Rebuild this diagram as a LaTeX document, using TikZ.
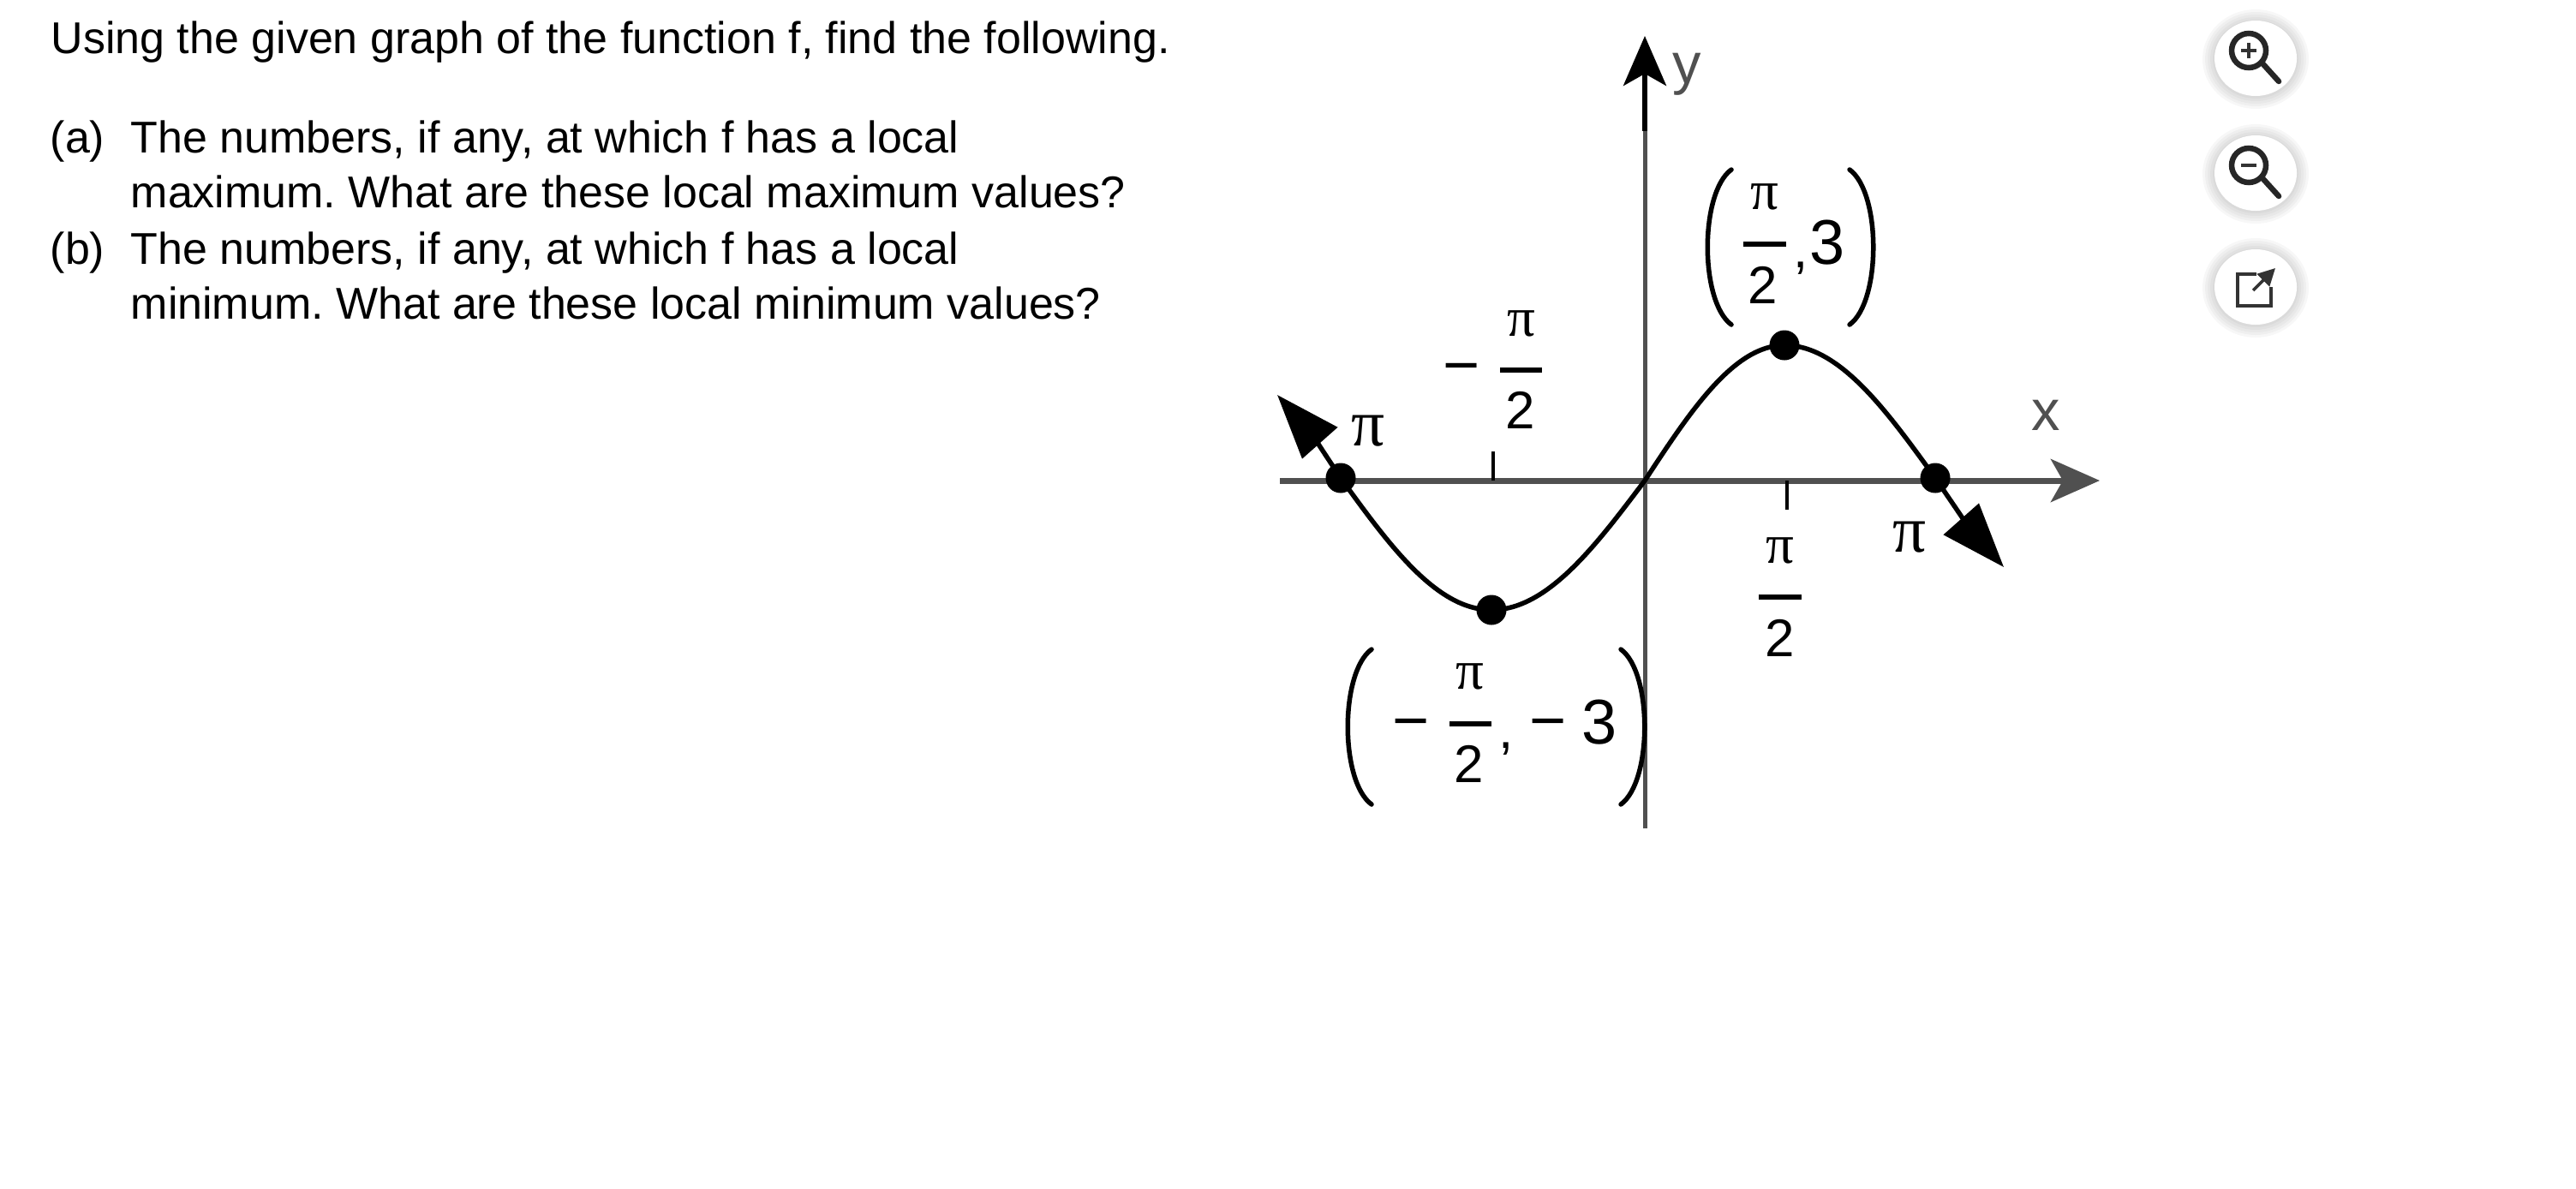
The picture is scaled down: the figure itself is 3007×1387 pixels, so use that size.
\documentclass[tikz,border=0pt]{standalone}
\usepackage{fontspec}
\setmainfont{Liberation Sans}
\newfontfamily\piface{Liberation Serif}
\usetikzlibrary{arrows.meta}
\definecolor{axisgray}{HTML}{505050}
\newcommand{\pismall}{{\piface\fontsize{18.5}{20}\selectfont π}}
\newcommand{\pilarge}{{\piface\fontsize{22}{24}\selectfont π}}
\newcommand{\minussign}{−}
\frenchspacing

\begin{document}
\begin{tikzpicture}[x=0.01cm,y=-0.01cm]
\tikzset{prose/.style={anchor=base west,inner sep=0pt,font=\fontsize{14.78}{16}\selectfont}}
\tikzset{lbl/.style={inner sep=0pt,font=\fontsize{17.6}{18}\selectfont}}
\tikzset{biglbl/.style={inner sep=0pt,font=\fontsize{21}{22}\selectfont}}
\tikzset{axislbl/.style={inner sep=0pt,text=axisgray,font=\fontsize{19}{20}\selectfont}}
\tikzset{ptdot/.style={circle,fill=black,inner sep=0pt,minimum size=0.35cm}}
\tikzset{fracbar/.style={line width=0.055cm}}
\tikzset{paren/.style={line width=0.055cm,line cap=round}}
\tikzset{fnline/.style={line width=0.055cm}}
\tikzset{iconline/.style={line width=0.065cm,line cap=round,color=black!85}}
\tikzset{iconthin/.style={line width=0.035cm,color=black!80}}
\useasboundingbox (0,0) rectangle (3007,1387);

% question text
\node[prose] (intro) at (59,62) {Using the given graph of the function f, find the following.};
\node[prose] (amark) at (58,178) {(a)};
\node[prose] (aline) at (152,178) {The numbers, if any, at which f has a local};
\node[prose] (atwo) at (152,242) {maximum. What are these local maximum values?};
\node[prose] (bmark) at (58,308) {(b)};
\node[prose] (bline) at (152,308) {The numbers, if any, at which f has a local};
\node[prose] (btwo) at (152,372) {minimum. What are these local minimum values?};

% axes
\coordinate (xstart) at (1494,561);
\coordinate (xend) at (2451,561);
\coordinate (ybottom) at (1920,967);
\coordinate (ymid) at (1920,153);
\coordinate (ytop) at (1920,42);
\draw[axisgray,line width=0.07cm,-{Stealth[length=0.57cm,width=0.5cm,inset=0.14cm]}] (xstart) -- (xend);
\draw[axisgray,line width=0.05cm] (ybottom) -- (ymid);
\draw[black,line width=0.055cm,-{Stealth[length=0.58cm,width=0.5cm,inset=0.14cm]}] (ymid) -- (ytop);
\node[axislbl] (ylbl) at (1969,87) {y};
\node[axislbl] (xlbl) at (2388,485) {x};

% ticks
\coordinate (ltick) at (1743,527);
\coordinate (lbase) at (1743,561);
\coordinate (rtick) at (2086,595);
\coordinate (rbase) at (2086,561);
\draw[line width=0.035cm] (ltick) -- (lbase);
\draw[line width=0.035cm] (rtick) -- (rbase);

% points and curve
\node[ptdot] (lfdot) at (1565,558) {};
\node[ptdot] (mindot) at (1741,712) {};
\coordinate (origin) at (1920,561);
\node[ptdot] (maxdot) at (2083,403) {};
\node[ptdot] (rtdot) at (2259,558) {};
\coordinate (lftip) at (1491,461);
\coordinate (rttip) at (2339,662);
\draw[fnline,{Triangle[length=0.75cm,width=0.54cm]}-{Triangle[length=0.75cm,width=0.54cm]}]
  (lftip) .. controls (1530,505) .. (lfdot.center)
  .. controls (1622,637) and (1677,712) .. (mindot.center)
  .. controls (1806,712) and (1862,638) .. (origin)
  .. controls (1973,480) and (2024,403) .. (maxdot.center)
  .. controls (2147,403) and (2202,479) .. (rtdot.center)
  .. controls (2300,618) .. (rttip);

% tick labels
\node[lbl] (lpi) at (1776,378) {\pismall};
\coordinate (lbara) at (1751,432);
\coordinate (lbarb) at (1800,432);
\draw[fracbar] (lbara) -- (lbarb);
\node[lbl] (ltwo) at (1775,479) {2};
\node[biglbl] (lminus) at (1706,438) {\minussign};
\node[lbl] (rpi) at (2078,643) {\pismall};
\coordinate (rbara) at (2053,697);
\coordinate (rbarb) at (2103,697);
\draw[fracbar] (rbara) -- (rbarb);
\node[lbl] (rtwo) at (2078,745) {2};
\node[lbl] (farleft) at (1597,503) {\pilarge};
\node[lbl] (farright) at (2229,627) {\pilarge};

% label of the maximum
\draw[paren] (2021,198) .. controls (1984,225) and (1984,352) .. (2021,379);
\draw[paren] (2159,198) .. controls (2196,225) and (2196,352) .. (2159,379);
\node[lbl] (maxpi) at (2060,230) {\pismall};
\coordinate (maxbara) at (2035,285);
\coordinate (maxbarb) at (2085,285);
\draw[fracbar] (maxbara) -- (maxbarb);
\node[lbl] (maxtwo) at (2058,333) {2};
\node[lbl,anchor=base] (maxcomma) at (2102,312) {,};
\node[biglbl] (maxthree) at (2133,283) {3};

% label of the minimum
\draw[paren] (1601,758) .. controls (1564,785) and (1564,912) .. (1601,939);
\draw[paren] (1892,758) .. controls (1929,785) and (1929,912) .. (1892,939);
\node[lbl] (minpi) at (1716,790) {\pismall};
\coordinate (minbara) at (1692,845);
\coordinate (minbarb) at (1741,845);
\draw[fracbar] (minbara) -- (minbarb);
\node[lbl] (mintwo) at (1715,892) {2};
\node[biglbl] (minminus) at (1647,853) {\minussign};
\node[lbl,anchor=base] (mincomma) at (1758,873) {,};
\node[biglbl] (minminusb) at (1807,853) {\minussign};
\node[biglbl] (minthree) at (1867,843) {3};

% zoom buttons
\foreach \cy in {68,202,335} {
  \foreach \grow in {14,11,8,5,2}
    \fill[black,opacity=0.03] (2633,\cy+1) ellipse ({48+\grow} and {44+\grow});
  \fill[white] (2633,\cy) ellipse (48 and 44);
}
\draw[iconline] (2625,59) circle (20);
\draw[iconline] (2641,74) -- (2660,95);
\draw[iconthin] (2616,59) -- (2634,59);
\draw[iconthin] (2625,50) -- (2625,68);
\draw[iconline] (2625,193) circle (20);
\draw[iconline] (2641,208) -- (2660,229);
\draw[iconthin] (2616,193) -- (2634,193);
\draw[iconthin] (2634,320) -- (2612,320) -- (2612,357) -- (2651,357) -- (2651,335);
\draw[iconthin,-{Triangle[length=0.2cm,width=0.2cm]}] (2630,339) -- (2656,313);
\end{tikzpicture}
\end{document}
